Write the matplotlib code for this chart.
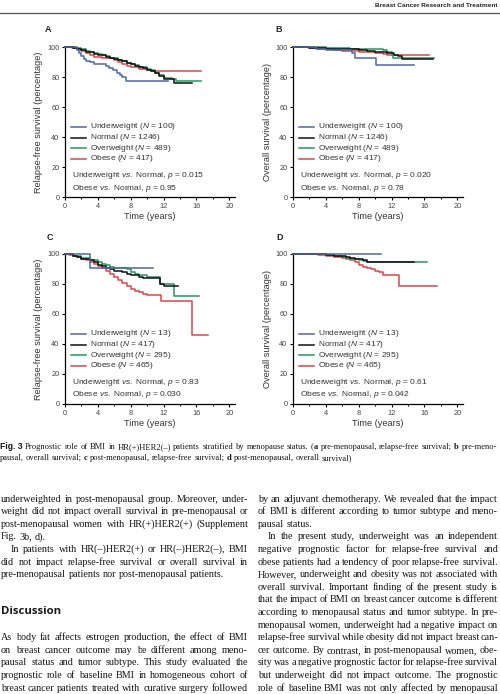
import matplotlib
matplotlib.use("Agg")
import matplotlib.pyplot as plt
from matplotlib.lines import Line2D
from matplotlib.ticker import MultipleLocator

plt.rcParams["font.family"] = ["Liberation Sans", "DejaVu Sans"]
plt.rcParams["mathtext.fontset"] = "custom"
plt.rcParams["mathtext.rm"] = "Liberation Sans"
plt.rcParams["mathtext.it"] = "Liberation Sans:italic"

W, H = 500, 694

# ---- Kaplan-Meier curves (time in years, survival in %) ----
groups = ["Underweight", "Normal", "Overweight", "Obese"]
colors = ["#4a68a8", "#111111", "#1f9a5c", "#e0444a"]

# A: pre-menopausal, relapse-free survival
a_n = [100, 1246, 489, 417]
a_under_t = [0, 1.5, 1.7, 2.0, 2.3, 2.6, 3.0, 3.5, 5.0, 5.4, 5.9, 6.3, 6.7, 7.0, 7.4, 12.6]
a_under_s = [100, 98, 96, 94, 92, 91, 90, 88.5, 87.5, 86, 84.5, 83, 81.5, 80, 77.5, 77.5]
a_norm_t = [0, 1.0, 1.5, 2.0, 2.5, 3.0, 3.5, 4.0, 4.5, 5.0, 5.5, 6.0, 6.5, 7.0, 7.5, 8.0, 8.5, 9.0,
            9.5, 10.0, 10.5, 11.0, 11.5, 12.0, 13.3, 15.5]
a_norm_s = [100, 99.5, 99, 98, 97, 96.5, 95.5, 95, 94.5, 93.5, 93, 92, 91.5, 90.5, 89.5, 88.5, 87.5,
            86.5, 86, 85, 84, 82.5, 81, 79, 76, 76]
a_over_t = [0, 1.2, 2.0, 2.5, 3.0, 3.5, 4.0, 4.5, 5.0, 5.5, 6.0, 6.5, 7.0, 7.5, 8.0, 8.5, 9.0, 9.5,
            10.0, 10.5, 11.0, 11.5, 12.0, 13.0, 13.5, 16.5]
a_over_s = [100, 99.5, 98.5, 97.5, 97, 96, 95.5, 94.5, 94, 93, 92.5, 91.5, 90.5, 89.5, 88.5, 88,
            87, 86.5, 85.5, 84.5, 83, 81.5, 79.5, 78.5, 77.5, 77.5]
a_obese_t = [0, 0.8, 1.5, 2.0, 2.5, 3.0, 3.5, 4.5, 5.0, 6.0, 6.5, 7.0, 7.5, 8.0, 9.0, 10.0, 10.5, 16.5]
a_obese_s = [100, 99.5, 99, 97.5, 96, 94.5, 93.5, 93, 92.5, 91.5, 90, 89, 87.5, 86.5, 85.5, 84.5, 84, 84]

# B: pre-menopausal, overall survival
b_n = [100, 1246, 489, 417]
b_under_t = [0, 2.8, 4.0, 7.2, 7.5, 10.1, 14.7]
b_under_s = [100, 99, 98, 96, 93, 88, 88]
b_norm_t = [0, 2.0, 4.0, 6.0, 8.0, 9.0, 10.0, 11.0, 11.5, 12.3, 12.8, 13.3, 17.0]
b_norm_s = [100, 99.5, 99, 98.5, 98, 97.5, 97, 96.5, 96, 95, 94, 92, 92]
b_over_t = [0, 4.0, 7.0, 9.0, 11.0, 11.5, 12.0, 12.2, 17.2]
b_over_s = [100, 99.5, 99, 98.5, 98, 97, 95, 92.5, 92.5]
b_obese_t = [0, 2.0, 3.0, 4.0, 5.0, 6.0, 8.0, 9.0, 10.0, 11.0, 11.5, 16.5]
b_obese_s = [100, 99.5, 99, 98.5, 98, 97.5, 97, 96.5, 96, 95.5, 95, 95]

# C: post-menopausal, relapse-free survival
c_n = [13, 417, 295, 465]
c_under_t = [0, 3.0, 10.7]
c_under_s = [100, 91, 91]
c_norm_t = [0, 1.0, 1.5, 2.0, 3.0, 3.5, 4.0, 4.5, 5.0, 5.5, 6.0, 7.0, 7.5, 8.0, 9.0, 9.5, 11.6, 12.0, 13.7]
c_norm_s = [100, 99, 98, 97, 96, 94.5, 93, 92, 91, 90, 89, 88, 87, 86, 85, 84, 80, 79, 79]
c_over_t = [0, 1.0, 2.0, 3.0, 4.0, 4.5, 5.0, 5.5, 6.0, 7.5, 8.0, 8.5, 9.0, 10.0, 11.6, 13.3, 16.3]
c_over_s = [100, 99, 97.5, 96, 94.5, 93.5, 92.5, 91.5, 91, 90, 88, 87, 86, 85, 80, 72, 72]
c_obese_t = [0, 0.5, 1.0, 1.5, 2.0, 2.5, 3.0, 3.5, 4.0, 4.5, 5.0, 5.5, 6.0, 6.5, 7.0, 7.5, 8.0, 8.5,
             9.0, 9.5, 10.0, 11.7, 15.5, 17.4]
c_obese_s = [100, 99.5, 99, 98, 97, 96, 95, 93.5, 92, 90.5, 88.5, 87, 85, 83, 80.5, 78.5, 76.5, 75.5,
             74.5, 73.5, 72.5, 69, 46, 46]

# D: post-menopausal, overall survival
d_n = [13, 417, 295, 465]
d_under_t = [0, 10.7]
d_under_s = [100, 100]
d_norm_t = [0, 4.0, 5.0, 6.0, 6.5, 7.0, 7.5, 8.0, 8.5, 9.0, 14.7]
d_norm_s = [100, 99.5, 99, 98.5, 98, 97.5, 97, 96.5, 96, 95, 95]
d_over_t = [0, 4.0, 5.0, 5.5, 6.0, 6.5, 7.0, 7.5, 8.0, 8.5, 9.0, 10.0, 16.3]
d_over_s = [100, 99.5, 99, 98.5, 98, 97.5, 97, 96.5, 96, 95.5, 95, 94.5, 94.5]
d_obese_t = [0, 3.0, 4.0, 4.5, 5.0, 6.0, 6.5, 7.0, 7.5, 8.0, 8.5, 9.0, 9.5, 10.0, 10.5, 11.0, 12.9, 17.5]
d_obese_s = [100, 99.5, 99, 98.5, 98, 97.5, 97, 96, 95, 93, 91.5, 91, 90, 89, 88, 86, 79, 79]

panel_letters = ["A", "B", "C", "D"]
ylabels = ["Relapse-free survival (percentage)", "Overall survival (percentage)",
           "Relapse-free survival (percentage)", "Overall survival (percentage)"]
p_under = ["0.015", "0.020", "0.83", "0.61"]
p_obese = ["0.95", "0.78", "0.030", "0.042"]

panels = [
    (a_n, [(a_under_t, a_under_s), (a_norm_t, a_norm_s), (a_over_t, a_over_s), (a_obese_t, a_obese_s)]),
    (b_n, [(b_under_t, b_under_s), (b_norm_t, b_norm_s), (b_over_t, b_over_s), (b_obese_t, b_obese_s)]),
    (c_n, [(c_under_t, c_under_s), (c_norm_t, c_norm_s), (c_over_t, c_over_s), (c_obese_t, c_obese_s)]),
    (d_n, [(d_under_t, d_under_s), (d_norm_t, d_norm_s), (d_over_t, d_over_s), (d_obese_t, d_obese_s)]),
]

fig = plt.figure(figsize=(W / 100, H / 100), dpi=100)
fig.patch.set_facecolor("white")
renderer = fig.canvas.get_renderer()


def px_axes(x0, y0, x1, y1):
    return fig.add_axes([x0 / W, 1 - y1 / H, (x1 - x0) / W, (y1 - y0) / H])


boxes = [(65, 47, 235, 197), (293, 47, 463, 197), (65, 254, 235, 404), (293, 254, 463, 404)]
letter_pos = [(45, 29), (275, 29), (47, 237), (276, 237)]
ylabel_x = [39, 267, 39, 267]
chart_txt = "#333333"

for i, (ns, curves) in enumerate(panels):
    ax = px_axes(*boxes[i])
    # draw in reverse so underweight sits on top like the original
    for k in [3, 2, 1, 0]:
        t, s = curves[k]
        ax.step(t, s, where="post", color=colors[k], lw=1.1, clip_on=False, zorder=3 + (3 - k) * 0.1)

    # legend drawn by hand to get the tight row spacing of the original
    for k in range(4):
        ry = 46.7 - 7.1 * k
        ax.add_line(Line2D([0.72, 2.55], [ry, ry], color=colors[k], lw=1.1))
        ax.text(3.05, ry, groups[k] + " ($\\mathit{N}$ = %d)" % ns[k], fontsize=6,
                color=chart_txt, va="center")
    ax.text(0.8, 14.4, "Underweight $\\mathit{vs.}$ Normal, $\\mathit{p}$ = " + p_under[i],
            fontsize=6, color=chart_txt, va="center")
    ax.text(0.8, 6.0, "Obese $\\mathit{vs.}$ Normal, $\\mathit{p}$ = " + p_obese[i],
            fontsize=6, color=chart_txt, va="center")

    ax.set_xlim(0, 20.7)
    ax.set_ylim(0, 100)
    ax.xaxis.set_major_locator(MultipleLocator(4))
    ax.xaxis.set_minor_locator(MultipleLocator(2))
    ax.yaxis.set_major_locator(MultipleLocator(20))
    ax.set_xticks([0, 4, 8, 12, 16, 20])
    for side in ["top", "right"]:
        ax.spines[side].set_visible(False)
    for side in ["left", "bottom"]:
        ax.spines[side].set_linewidth(0.9)
    ax.tick_params(which="major", length=2.5, width=0.8, labelsize=5.3, pad=1.5, labelcolor="#444444")
    ax.tick_params(which="minor", length=1.5, width=0.7)
    ax.set_xlabel("Time (years)", fontsize=6.6, color=chart_txt, labelpad=1.5)
    ax.patch.set_alpha(0)

    cy = (boxes[i][1] + boxes[i][3]) / 2
    fig.text(ylabel_x[i] / W, 1 - cy / H, ylabels[i], rotation=90, fontsize=6.6,
             color=chart_txt, ha="center", va="center")
    lx, ly = letter_pos[i]
    fig.text(lx / W, 1 - ly / H, panel_letters[i], fontsize=6.5, weight="bold", color="#222222", va="center")

# ---- page header ----
HEAD_FONT = ["Liberation Sans Narrow", "Liberation Sans"]
head = "Breast Cancer Research and Treatment"
probe = fig.text(0, 0, head, fontsize=6, family=HEAD_FONT, weight="bold")
head_size = 6 * 124 / probe.get_window_extent(renderer).width
probe.remove()
fig.text(498 / W, 1 - 5.5 / H, head, ha="right", va="center", fontsize=head_size,
         family=HEAD_FONT, weight="bold", color="#222222")
fig.add_artist(Line2D([0, 1], [1 - 13 / H, 1 - 13 / H], color="#555555", lw=0.9))

# ---- caption and body text ----
SERIF = "Liberation Serif"
body_col = "#151515"


def parse(line, family=SERIF):
    words = []
    for w in line.split(" "):
        parts = w.split("*")
        words.append([(p, "bold" if j % 2 else "normal", family) for j, p in enumerate(parts) if p])
    return words


def text_w(s, size, family=SERIF, weight="normal"):
    t = fig.text(0, 0, s, fontsize=size, family=family, weight=weight)
    w = t.get_window_extent(renderer).width
    t.remove()
    return w


def space_width(size):
    return text_w("a a", size) - text_w("aa", size)


def glyph_width(words, size):
    return sum(text_w(txt, size, fam, wt) for word in words for txt, wt, fam in word)


def natural_width(words, size):
    return glyph_width(words, size) + space_width(size) * (len(words) - 1)


def put_line(words, x0, x1, y, size, justify=True):
    n = len(words)
    if justify and n > 1:
        # a line too full for its column is set a touch smaller, like a tight TeX line
        need = glyph_width(words, size) + 0.45 * space_width(size) * (n - 1)
        if need > x1 - x0:
            size = size * (x1 - x0) / need
    base = 1 - (y + 0.26 * size * 100 / 72) / H
    arts, widths = [], []
    for word in words:
        segs = []
        wsum = 0
        for text, wt, fam in word:
            t = fig.text(0, base, text, fontsize=size, family=fam, weight=wt,
                         va="baseline", color=body_col)
            w = t.get_window_extent(renderer).width
            segs.append((t, w))
            wsum += w
        arts.append(segs)
        widths.append(wsum)
    if justify and n > 1:
        gap = (x1 - x0 - sum(widths)) / (n - 1)
    else:
        gap = space_width(size)
    x = x0
    for segs in arts:
        for t, w in segs:
            t.set_x(x / W)
            x += w
        x += gap


cap1 = parse("Prognostic role of BMI in HR(+)HER2(\u2013) patients stratified by menopause status. "
             "(*a* pre-menopausal, relapse-free survival; *b* pre-meno-")
cap1 = [[("Fig. 3", "bold", "Liberation Sans")]] + cap1
cap2 = parse("pausal, overall survival; *c* post-menopausal, relapse-free survival; *d* post-menopausal, overall survival)")
cap_size = 6.2 * 497 / natural_width(cap1, 6.2)
put_line(cap1, 0, 497, 447, cap_size, True)
put_line(cap2, 0, 497, 458, cap_size, False)

left_lines = [
    ("underweighted in post-menopausal group. Moreover, under-", 0, True),
    ("weight did not impact overall survival in pre-menopausal or", 0, True),
    ("post-menopausal women with HR(+)HER2(+) (Supplement", 0, True),
    ("Fig. 3b, d).", 0, False),
    ("In patients with HR(\u2013)HER2(+) or HR(\u2013)HER2(\u2013), BMI", 10, True),
    ("did not impact relapse-free survival or overall survival in", 0, True),
    ("pre-menopausal patients nor post-menopausal patients.", 0, False),
    None, None, None, None,
    ("As body fat affects estrogen production, the effect of BMI", 0, True),
    ("on breast cancer outcome may be different among meno-", 0, True),
    ("pausal status and tumor subtype. This study evaluated the", 0, True),
    ("prognostic role of baseline BMI in homogeneous cohort of", 0, True),
    ("breast cancer patients treated with curative surgery followed", 0, True),
]
right_lines = [
    ("by an adjuvant chemotherapy. We revealed that the impact", 0, True),
    ("of BMI is different according to tumor subtype and meno-", 0, True),
    ("pausal status.", 0, False),
    ("In the present study, underweight was an independent", 10, True),
    ("negative prognostic factor for relapse-free survival and", 0, True),
    ("obese patients had a tendency of poor relapse-free survival.", 0, True),
    ("However, underweight and obesity was not associated with", 0, True),
    ("overall survival. Important finding of the present study is", 0, True),
    ("that the impact of BMI on breast cancer outcome is different", 0, True),
    ("according to menopausal status and tumor subtype. In pre-", 0, True),
    ("menopausal women, underweight had a negative impact on", 0, True),
    ("relapse-free survival while obesity did not impact breast can-", 0, True),
    ("cer outcome. By contrast, in post-menopausal women, obe-", 0, True),
    ("sity was a negative prognostic factor for relapse-free survival", 0, True),
    ("but underweight did not impact outcome. The prognostic", 0, True),
    ("role of baseline BMI was not only affected by menopausal", 0, True),
]

# body size: the typical justified line should need roughly normal word spaces
ratios = [(247 - it[1]) / natural_width(parse(it[0]), 7.0) for it in left_lines if it and it[2]]
ratios += [(240 - ind) / natural_width(parse(t), 7.0) for t, ind, j in right_lines if j]
ratios.sort()
body_size = 7.0 * ratios[len(ratios) // 2]

y0, dy = 499, 12.6
for j, item in enumerate(left_lines):
    if item is None:
        continue
    txt, ind, just = item
    put_line(parse(txt), 1 + ind, 248, y0 + j * dy, body_size, just)
for j, (txt, ind, just) in enumerate(right_lines):
    put_line(parse(txt), 258 + ind, 498, y0 + j * dy, body_size, just)

fig.text(0.5 / W, 1 - 614 / H, "Discussion", fontsize=8.2, weight="bold",
         family=["Open Sans", "Liberation Sans"], color="#1a1a1a", va="baseline")

fig.savefig("out.png", dpi=100, facecolor="white")
